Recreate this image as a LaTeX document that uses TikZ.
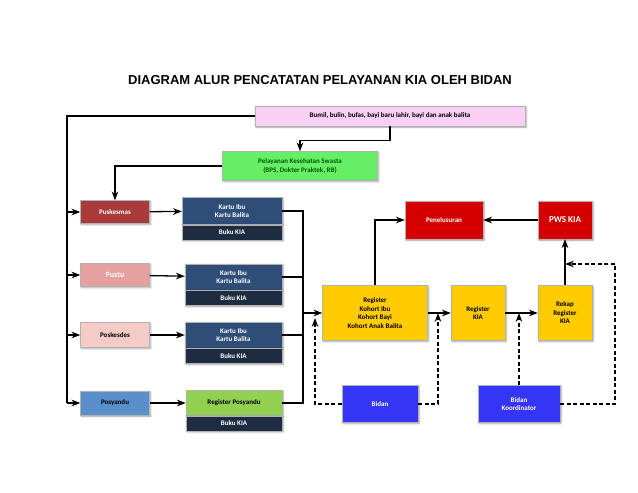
\documentclass[tikz,border=0pt]{standalone}
\usepackage{fontspec}
\setmainfont{Carlito}
\newfontfamily\titlefont{Liberation Sans}
\usetikzlibrary{positioning,arrows.meta,shadows.blur}
\definecolor{lilac1}{HTML}{F8D0F4}
\definecolor{green1}{HTML}{66EE66}
\definecolor{green2}{HTML}{92D050}
\definecolor{red1}{HTML}{A93A3A}
\definecolor{pink1}{HTML}{E6A0A0}
\definecolor{pink2}{HTML}{F4CBC6}
\definecolor{blue1}{HTML}{5B8FCB}
\definecolor{navy1}{HTML}{2E4E78}
\definecolor{navy2}{HTML}{1E2C42}
\definecolor{yellow1}{HTML}{FFCC00}
\definecolor{red2}{HTML}{D50000}
\definecolor{blue2}{HTML}{3535F5}

\begin{document}
\begin{tikzpicture}[
    x=1pt, y=-1pt,
    >=Stealth,
    box/.style={draw=white!70!black, line width=0.4pt, inner sep=1pt, align=center,
                font=\fontsize{7}{8.5}\selectfont\bfseries,
                blur shadow={shadow blur steps=4, shadow xshift=1pt,
                shadow yshift=-1pt}},
    flow/.style={->, line width=1.3pt},
    dflow/.style={->, line width=1.3pt, dash pattern=on 4pt off 2.5pt},
]
\useasboundingbox (0,0) rectangle (638,493);

\node[font=\titlefont\bfseries\fontsize{13}{15}\selectfont] (title) at (320,80)
    {DIAGRAM ALUR PENCATATAN PELAYANAN KIA OLEH BIDAN};

% ── top ──
\node[box, fill=lilac1, minimum width=270pt, minimum height=20pt] (bumil) at (390,116)
    {Bumil, bulin, bufas, bayi baru lahir, bayi dan anak balita};
\node[box, fill=green1, text=green!35!black, minimum width=155pt, minimum height=29pt]
    (swasta) at (300,166) {Pelayanan Kesehatan Swasta\\(BPS, Dokter Praktek, RB)};

% ── fasilitas ──
\node[box, fill=red1, text=white, minimum width=69pt, minimum height=23pt] (pusk) at (115,212) {Puskesmas};
\node[box, fill=pink1, text=white, minimum width=69pt, minimum height=23pt,
      font=\fontsize{8}{9}\selectfont\bfseries] (pustu) at (115,275) {Pustu};
\node[box, fill=pink2, minimum width=69pt, minimum height=25pt] (posk) at (115,335) {Poskesdes};
\node[box, fill=blue1, minimum width=69pt, minimum height=24pt] (posy) at (115,403) {Posyandu};

% ── kartu ──
\node[box, fill=navy1, text=white, minimum width=100pt, minimum height=27pt] (kartuA) at (232,211) {Kartu Ibu\\Kartu Balita};
\node[box, fill=navy2, text=white, minimum width=100pt, minimum height=15pt, below=0pt of kartuA] (bukuA) {Buku KIA};
\node[box, fill=navy1, text=white, minimum width=97pt, minimum height=26pt] (kartuB) at (233.5,277) {Kartu Ibu\\Kartu Balita};
\node[box, fill=navy2, text=white, minimum width=97pt, minimum height=15pt, below=0pt of kartuB] (bukuB) {Buku KIA};
\node[box, fill=navy1, text=white, minimum width=97pt, minimum height=26pt] (kartuC) at (233.5,335) {Kartu Ibu\\Kartu Balita};
\node[box, fill=navy2, text=white, minimum width=97pt, minimum height=15pt, below=0pt of kartuC] (bukuC) {Buku KIA};
\node[box, fill=green2, minimum width=96pt, minimum height=25pt] (regpos) at (234,403) {Register Posyandu};
\node[box, fill=navy2, text=white, minimum width=96pt, minimum height=15pt, below=0pt of regpos] (bukuD) {Buku KIA};

% ── register ──
\node[box, fill=yellow1, minimum width=105pt, minimum height=55pt] (kohort) at (375,313)
    {Register\\Kohort Ibu\\Kohort Bayi\\Kohort Anak Balita};
\node[box, fill=yellow1, minimum width=54pt, minimum height=55pt] (regkia) at (478,313) {Register\\KIA};
\node[box, fill=yellow1, minimum width=54pt, minimum height=55pt] (rekap) at (565,313) {Rekap\\Register\\KIA};
\node[box, fill=red2, text=white, minimum width=78pt, minimum height=38pt] (telusur) at (444,220) {Penelusuran};
\node[box, fill=red2, text=white, minimum width=54pt, minimum height=38pt,
      font=\fontsize{9}{10}\selectfont\bfseries] (pws) at (565,220) {PWS KIA};
\node[box, fill=blue2, text=white, minimum width=76pt, minimum height=37pt] (bidan) at (380,404) {Bidan};
\node[box, fill=blue2, text=white, minimum width=82pt, minimum height=37pt] (bidkor) at (519,404) {Bidan\\Koordinator};

% ── alur ──
\coordinate (spine) at (67,116);
\coordinate (join) at (303,313);
\draw[flow] (bumil.south) -- ++(0,14) -| (swasta.north);
\draw[flow] (swasta.west) -| (pusk.north);
\draw[line width=1.3pt] (bumil.west) -- (spine) -- (spine |- posy.west);
\foreach \f in {pusk,pustu,posk,posy}
    \draw[flow] (spine |- \f.west) -- (\f.west);
\draw[flow] (pusk) -- (kartuA);
\draw[flow] (pustu) -- (kartuB);
\draw[flow] (posk) -- (kartuC);
\draw[flow] (posy) -- (regpos);
\draw[line width=1.3pt] (kartuA.east) -- (join |- kartuA.east) -- (join |- regpos.east) -- (regpos.east);
\draw[line width=1.3pt] (kartuB.east) -- (join |- kartuB.east);
\draw[line width=1.3pt] (kartuC.east) -- (join |- kartuC.east);
\draw[flow] (join) -- (kohort.west);
\draw[flow] (kohort) -- (regkia);
\draw[flow] (regkia) -- (rekap);
\draw[flow] (kohort.north) |- (telusur.west);
\draw[flow] (pws) -- (telusur);
\draw[flow] (rekap) -- (pws);

% ── putus-putus ──
\coordinate (ujung) at (615,264);
\draw[dflow] (bidan.west) -| (315,318);
\draw[dflow] (bidan.east) -| (438,313);
\draw[dflow] (bidkor.north) -- (519,313);
\draw[dflow] (bidkor.east) -| (ujung) -- (rekap.north |- ujung);

\end{tikzpicture}
\end{document}
